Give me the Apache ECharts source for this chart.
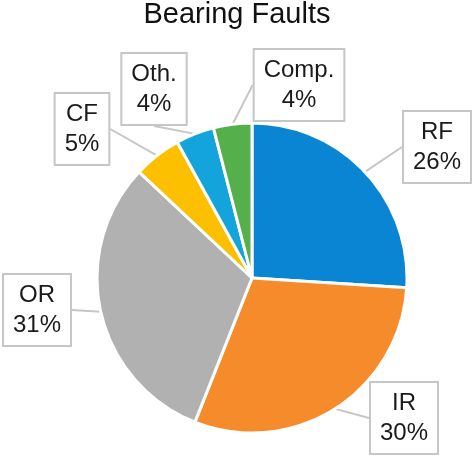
<!DOCTYPE html>
<html>
<head>
<meta charset="utf-8">
<script src="https://cdn.jsdelivr.net/npm/echarts@6/dist/echarts.min.js"></script>
<style>
  html, body { margin: 0; padding: 0; background: #fff; }
  #main { width: 474px; height: 457px; }
</style>
</head>
<body>
<div id="main"></div>
<script>
// slices, clockwise from 12 o'clock
var faultNames = ['RF', 'IR', 'OR', 'CF', 'Oth.', 'Comp.'];
var faultShare = [26, 30, 31, 5, 4, 4];
var faultColors = ['#0a85d3', '#f68b2b', '#b1b1b1', '#fcc000', '#13a4dc', '#55b04b'];

// where the callout boxes sit (box centres, px)
var labelPos = [[437, 147], [404, 418], [37, 310], [82, 129], [154, 89], [299, 85]];

var chart = echarts.init(document.getElementById('main'));

var pieData = faultNames.map(function (n, i) {
  return { name: n, value: faultShare[i], itemStyle: { color: faultColors[i] } };
});

chart.setOption({
  animation: false,
  title: {
    text: 'Bearing Faults',
    left: 'center',
    top: 0,
    padding: 0,
    textStyle: {
      fontFamily: 'Liberation Sans',
      fontSize: 29,
      fontWeight: 'normal',
      color: '#111'
    }
  },
  series: [{
    type: 'pie',
    center: [252, 278],
    radius: 155,
    startAngle: 90,
    clockwise: true,
    avoidLabelOverlap: false,
    data: pieData,
    itemStyle: { borderColor: '#fff', borderWidth: 3 },
    label: {
      show: true,
      formatter: '{b}\n{c}%',
      fontFamily: 'Liberation Sans',
      fontSize: 24,
      lineHeight: 30,
      color: '#1a1a1a',
      backgroundColor: '#fff',
      borderColor: '#c6c6c6',
      borderWidth: 2,
      padding: [5, 9],
      align: 'center'
    },
    labelLine: {
      show: true,
      length: 10,
      length2: 0,
      lineStyle: { color: '#c6c6c6', width: 2 }
    },
    labelLayout: function (params) {
      var p = labelPos[params.dataIndex];
      return { x: p[0], y: p[1], align: 'center', verticalAlign: 'middle' };
    },
    emphasis: { disabled: true }
  }]
});
</script>
</body>
</html>
